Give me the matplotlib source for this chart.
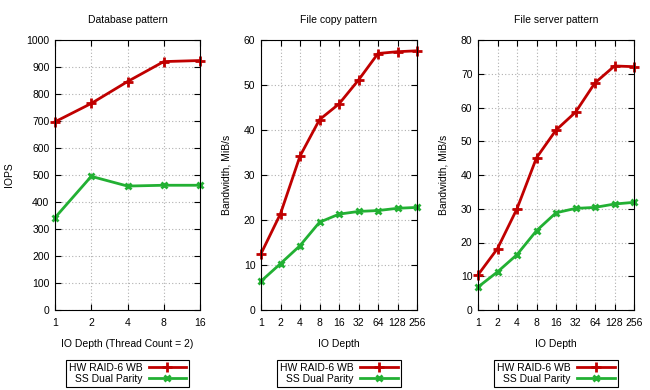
import matplotlib
matplotlib.use("Agg")
import matplotlib.pyplot as plt

red = "#c00000"
green = "#22b033"

db_depth = [1, 2, 4, 8, 16]
db_hw = [697, 765, 846, 920, 924]
db_ss = [342, 495, 459, 462, 462]

io_depth = [1, 2, 4, 8, 16, 32, 64, 128, 256]
copy_hw = [12.5, 21.4, 34.2, 42.3, 45.8, 51.1, 57.0, 57.4, 57.6]
copy_ss = [6.4, 10.3, 14.3, 19.5, 21.3, 21.9, 22.1, 22.6, 22.8]
srv_hw = [10.4, 18.2, 30.0, 45.1, 53.3, 58.6, 67.3, 72.3, 72.1]
srv_ss = [6.8, 11.3, 16.4, 23.5, 28.8, 30.1, 30.4, 31.4, 31.9]

panels = [
    ("Database pattern", db_depth, db_hw, db_ss, "IO Depth (Thread Count = 2)", "IOPS",
     (0, 1000), range(0, 1001, 100), [55, 200]),
    ("File copy pattern", io_depth, copy_hw, copy_ss, "IO Depth", "Bandwidth, MiB/s",
     (0, 60), range(0, 61, 10), [261, 417]),
    ("File server pattern", io_depth, srv_hw, srv_ss, "IO Depth", "Bandwidth, MiB/s",
     (0, 80), range(0, 81, 10), [478, 634]),
]

plt.rcParams["font.family"] = ["Liberation Sans", "DejaVu Sans"]
plt.rcParams["font.size"] = 7.5

fig = plt.figure(figsize=(6.5, 3.9), dpi=100)
W, H = 650, 390

for title, xs, hw, ss, xlab, ylab, ylim, yt, (x0, x1) in panels:
    ax = fig.add_axes([x0 / W, 1 - 310 / H, (x1 - x0) / W, 270 / H])
    ax.plot(xs, hw, color=red, lw=2, marker="+", ms=7, mew=2, label="HW RAID-6 WB",
            clip_on=False, zorder=3)
    ax.plot(xs, ss, color=green, lw=2, marker="x", ms=5, mew=2, label="SS Dual Parity",
            clip_on=False, zorder=3)
    ax.set_xscale("log", base=2)
    ax.set_xlim(xs[0], xs[-1])
    ax.set_xticks(xs)
    ax.set_xticklabels([str(v) for v in xs])
    ax.minorticks_off()
    ax.set_ylim(*ylim)
    ax.set_yticks(list(yt))
    ax.grid(True, color="#b0b0b0", linestyle=(0, (1, 2)), lw=0.8)
    ax.tick_params(direction="in", top=True, right=True, length=4, width=0.8)
    ax.tick_params(axis="x", pad=6)
    ax.tick_params(axis="y", pad=4)
    for s in ax.spines.values():
        s.set_linewidth(0.8)
        s.set_zorder(4)
    ax.set_title(title, fontsize=7.5, pad=12)
    ax.set_xlabel(xlab, labelpad=8)
    ax.set_ylabel(ylab, labelpad=9)
    leg = ax.legend(loc="upper center", bbox_to_anchor=(0.5, -0.185), markerfirst=False,
                    fancybox=False, edgecolor="black", framealpha=1, fontsize=7.5,
                    handlelength=3.6, borderpad=0.3, labelspacing=0.1, handletextpad=0.6,
                    borderaxespad=0)
    leg.get_frame().set_linewidth(0.8)

fig.savefig("out.png", dpi=100)
